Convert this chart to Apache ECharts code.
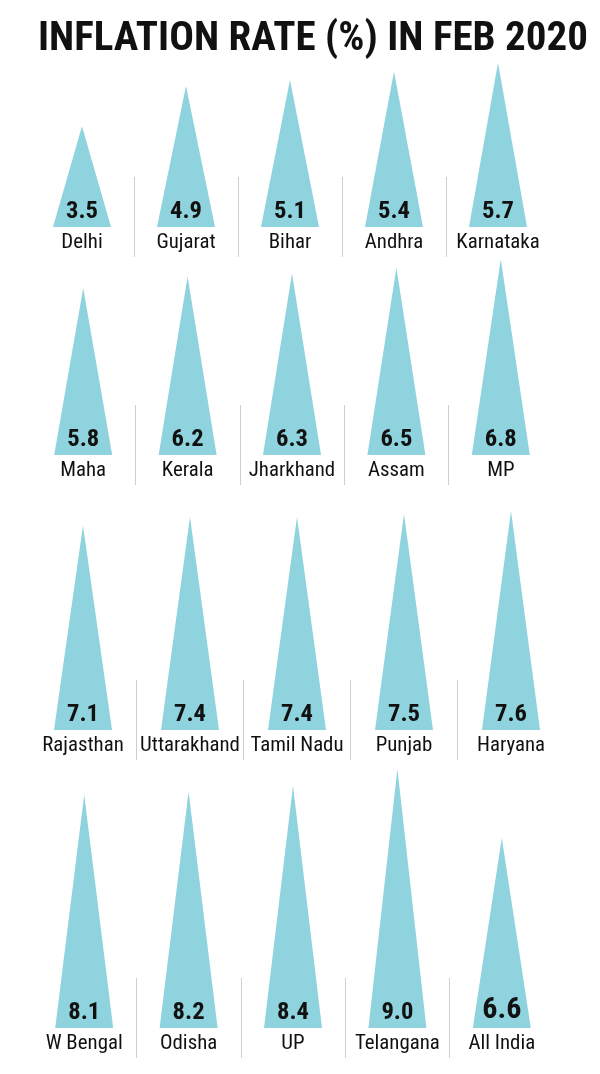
<!DOCTYPE html>
<html>
<head>
<meta charset="utf-8">
<script src="https://cdn.jsdelivr.net/npm/echarts@6/dist/echarts.min.js"></script>
<style>
html,body{margin:0;padding:0;background:#fff;}
#chart{width:600px;height:1074px;}
</style>
</head>
<body>
<div id="chart"></div>
<script>
// ---- data ----
var titleText = 'INFLATION RATE (%) IN FEB 2020';
var names1 = ['Delhi', 'Gujarat', 'Bihar', 'Andhra', 'Karnataka'];
var values1 = [3.5, 4.9, 5.1, 5.4, 5.7];
var names2 = ['Maha', 'Kerala', 'Jharkhand', 'Assam', 'MP'];
var values2 = [5.8, 6.2, 6.3, 6.5, 6.8];
var names3 = ['Rajasthan', 'Uttarakhand', 'Tamil Nadu', 'Punjab', 'Haryana'];
var values3 = [7.1, 7.4, 7.4, 7.5, 7.6];
var names4 = ['W Bengal', 'Odisha', 'UP', 'Telangana', 'All India'];
var values4 = [8.1, 8.2, 8.4, 9.0, 6.6];

// ---- font selection (pick a condensed face if installed) ----
var ctx = document.createElement('canvas').getContext('2d');
function hasFont(f) {
  var s = 'abcdefghijklmnopqrstuvwxyzABCDEFGHIJKLM0123456789';
  var res = false;
  ['monospace', 'serif'].forEach(function (g) {
    ctx.font = '40px ' + g; var a = ctx.measureText(s).width;
    ctx.font = '40px "' + f + '", ' + g; var b = ctx.measureText(s).width;
    if (Math.abs(a - b) > 0.5) res = true;
  });
  return res;
}
var candidates = ['Liberation Sans Narrow', 'Roboto Condensed', 'Noto Sans Condensed', 'Open Sans Condensed', 'DejaVu Sans Condensed', 'Roboto', 'Liberation Sans'];
var FACE = 'sans-serif';
for (var k = 0; k < candidates.length; k++) { if (hasFont(candidates[k])) { FACE = candidates[k]; break; } }
var FAM = '"' + FACE + '", sans-serif';
function widthAt(text, size, weight) {
  ctx.font = (weight || 'normal') + ' ' + size + 'px ' + FAM;
  return ctx.measureText(text).width;
}
function fitSize(text, weight, target, lo, hi) {
  var s = 40 * target / widthAt(text, 40, weight);
  return Math.max(lo, Math.min(hi, s));
}
var TITLE_SIZE = fitSize(titleText, 'bold', 550, 20, 42);
var NAME_SIZE = fitSize('Uttarakhand', 'normal', 100, 15, 21);
var VAL_SIZE = fitSize('3.5', 'bold', 32, 18, 27);
var VAL_SIZE_ALL = fitSize('6.6', 'bold', 40, 18, 30);

// ---- layout ----
var H = 1074;
var rows = [
  {names: names1, values: values1, base: 227, left: 30, width: 520, ymax: 7},
  {names: names2, values: values2, base: 455, left: 31, width: 522, ymax: 10},
  {names: names3, values: values3, base: 730, left: 29.5, width: 535, ymax: 10},
  {names: names4, values: values4, base: 1028, left: 32, width: 522, ymax: 10}
];
var PX_PER_UNIT = 28.8;
var TRI = '#8ed3dd';
var INK = '#111';

var grid = [], xAxis = [], yAxis = [], series = [];
rows.forEach(function (r, i) {
  grid.push({left: r.left, width: r.width, bottom: H - r.base, height: r.ymax * PX_PER_UNIT});
  xAxis.push({
    type: 'category', gridIndex: 2 * i, data: r.names,
    axisLine: {show: false}, axisTick: {show: false}, splitLine: {show: false},
    axisLabel: {show: true, color: INK, fontFamily: FAM, fontSize: NAME_SIZE, margin: 5, interval: 0}
  });
  yAxis.push({type: 'value', gridIndex: 2 * i, min: 0, max: r.ymax, show: false, splitLine: {show: false}});
  // separator grid
  grid.push({left: r.left, width: r.width, bottom: H - r.base - 30, height: 80});
  xAxis.push({
    type: 'value', gridIndex: 2 * i + 1, min: 0, max: 5, interval: 1,
    axisLine: {show: false}, axisTick: {show: false}, axisLabel: {show: false},
    splitLine: {show: true, showMinLine: false, showMaxLine: false, lineStyle: {color: '#cfcfcf', width: 1}}
  });
  yAxis.push({type: 'value', gridIndex: 2 * i + 1, min: 0, max: 1, show: false, splitLine: {show: false}});

  var data = r.values.map(function (v, j) {
    var d = {value: v};
    if (r.names[j] === 'All India') d.label = {fontSize: VAL_SIZE_ALL};
    return d;
  });
  series.push({
    type: 'pictorialBar',
    xAxisIndex: 2 * i, yAxisIndex: 2 * i,
    symbol: 'triangle',
    symbolSize: ['100%', '100%'],
    barWidth: 58,
    itemStyle: {color: TRI},
    label: {
      show: true, position: 'insideBottom', distance: 3,
      color: INK, fontFamily: FAM, fontWeight: 'bold', fontSize: VAL_SIZE,
      formatter: function (p) { return Number(p.value).toFixed(1); }
    },
    data: data,
    silent: true,
    animation: false
  });
});

var chart = echarts.init(document.getElementById('chart'), null, {renderer: 'canvas'});
chart.setOption({
  backgroundColor: '#fff',
  animation: false,
  title: {
    text: titleText, left: 33, top: 14,
    textStyle: {fontFamily: FAM, fontWeight: 'bold', fontSize: TITLE_SIZE, color: INK}
  },
  grid: grid, xAxis: xAxis, yAxis: yAxis, series: series
});
</script>
</body>
</html>
